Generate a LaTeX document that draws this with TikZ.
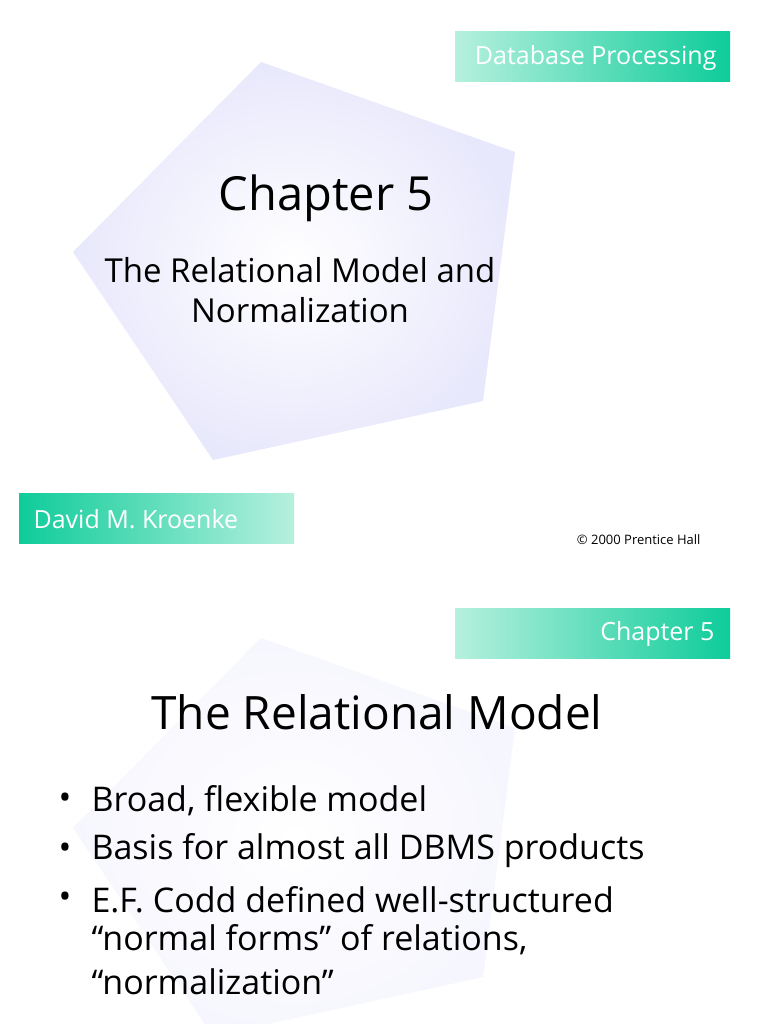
\documentclass[tikz,border=0pt]{standalone}
\usepackage{fontspec}
\setmainfont{Open Sans}
\definecolor{teal1}{RGB}{14,204,154}
\definecolor{teal2}{RGB}{182,240,222}
\definecolor{lav}{RGB}{232,232,252}
\definecolor{lav2}{RGB}{246,246,254}
\begin{document}
\begin{tikzpicture}[x=1pt,y=-1pt,
  hdr/.style={white,anchor=east,font=\fontsize{25}{29}\selectfont},
  bul/.style={anchor=west,font=\fontsize{34}{40}\selectfont,align=left}]
\useasboundingbox (0,0) rectangle (768,1024);
\fill[white] (0,0) rectangle (768,1024);
\clip (0,0) rectangle (768,1024);
% pentagons
\shade[inner color=white,outer color=lav] (261,62) -- (515,152) -- (483,401) -- (213,460) -- (73,252) -- cycle;
\shade[inner color=white,outer color=lav2] (261,638) -- (515,728) -- (483,977) -- (213,1036) -- (73,828) -- cycle;
% headers
\shade[left color=teal2,right color=teal1] (455,32) rectangle (730,82);
\node[hdr] (h1) at (720,58) {Database Processing};
\shade[left color=teal1,right color=teal2] (19,493) rectangle (294,543);
\node[white,anchor=west,font=\fontsize{25}{29}\selectfont] (h2) at (30,519) {David M. Kroenke};
\node[anchor=east,font=\fontsize{13}{15}\selectfont] (cp) at (704,540) {© 2000 Prentice Hall};
\node[font=\fontsize{47}{54}\selectfont] (t1) at (326,198) {Chapter 5};
\node[font=\fontsize{33}{40}\selectfont,align=center] (t2) at (300,290) {The Relational Model and\\Normalization};
% slide 2
\shade[left color=teal2,right color=teal1] (455,608) rectangle (730,658);
\node[hdr] (h3) at (718,634) {Chapter 5};
\node[font=\fontsize{46}{52}\selectfont] (t3) at (377,712) {The Relational Model};
\node[bul] (b1) at (55,801) {•};
\node[bul] (b1t) at (88,801) {Broad, flexible model};
\node[bul] (b2) at (55,851) {•};
\node[bul] (b2t) at (88,851) {Basis for almost all DBMS products};
\node[bul] (b3) at (55,900) {•};
\node[bul] (b3t) at (88,900) {E.F. Codd defined well-structured};
\node[bul] (b4) at (88,940) {“normal forms” of relations,};
\node[bul] (b5) at (88,982) {“normalization”};
\end{tikzpicture}
\end{document}
